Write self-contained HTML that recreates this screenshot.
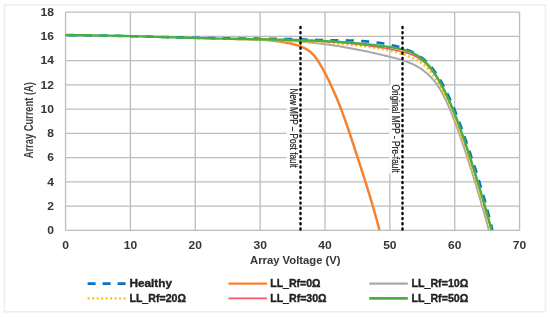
<!DOCTYPE html>
<html><head><meta charset="utf-8"><title>I-V curves</title>
<style>html,body{margin:0;padding:0;background:#fff;width:550px;height:317px;overflow:hidden}svg{display:block}</style>
</head><body>
<div id="c"><svg width="550" height="317" viewBox="0 0 550 317"><g><rect x="0" y="0" width="550" height="317" fill="#ffffff"/>
<rect x="4.5" y="4.8" width="541" height="307" fill="none" stroke="#e9eff4" stroke-width="1.6"/>
<g stroke="#bdbdbd" stroke-width="1.3" fill="none"><line x1="65.55" y1="12.05" x2="65.55" y2="230.30"/><line x1="130.41" y1="12.05" x2="130.41" y2="230.30"/><line x1="195.27" y1="12.05" x2="195.27" y2="230.30"/><line x1="260.13" y1="12.05" x2="260.13" y2="230.30"/><line x1="324.99" y1="12.05" x2="324.99" y2="230.30"/><line x1="389.85" y1="12.05" x2="389.85" y2="230.30"/><line x1="454.71" y1="12.05" x2="454.71" y2="230.30"/><line x1="519.57" y1="12.05" x2="519.57" y2="230.30"/><line x1="65.55" y1="230.30" x2="519.57" y2="230.30"/><line x1="65.55" y1="206.05" x2="519.57" y2="206.05"/><line x1="65.55" y1="181.80" x2="519.57" y2="181.80"/><line x1="65.55" y1="157.55" x2="519.57" y2="157.55"/><line x1="65.55" y1="133.30" x2="519.57" y2="133.30"/><line x1="65.55" y1="109.05" x2="519.57" y2="109.05"/><line x1="65.55" y1="84.80" x2="519.57" y2="84.80"/><line x1="65.55" y1="60.55" x2="519.57" y2="60.55"/><line x1="65.55" y1="36.30" x2="519.57" y2="36.30"/><line x1="65.55" y1="12.05" x2="519.57" y2="12.05"/></g>
<path d="M65.45,35.13 L66.82,35.14 L68.19,35.14 L69.56,35.15 L70.93,35.16 L72.30,35.16 L73.67,35.17 L75.05,35.18 L76.42,35.19 L77.79,35.20 L79.16,35.21 L80.53,35.23 L81.90,35.24 L83.28,35.25 L84.65,35.27 L86.02,35.29 L87.39,35.30 L88.76,35.32 L90.14,35.34 L91.51,35.36 L92.88,35.38 L94.25,35.40 L95.62,35.42 L97.00,35.44 L98.37,35.46 L99.74,35.49 L101.11,35.51 L102.48,35.54 L103.86,35.56 L105.23,35.59 L106.60,35.61 L107.97,35.64 L109.34,35.67 L110.72,35.70 L112.09,35.73 L113.46,35.75 L114.83,35.78 L116.21,35.81 L117.58,35.85 L118.95,35.88 L120.32,35.91 L121.69,35.94 L123.07,35.97 L124.44,36.01 L125.81,36.04 L127.18,36.07 L128.56,36.11 L129.93,36.14 L131.30,36.18 L132.67,36.21 L134.05,36.25 L135.42,36.28 L136.79,36.32 L138.16,36.36 L139.54,36.39 L140.91,36.43 L142.28,36.47 L143.65,36.51 L145.03,36.54 L146.40,36.58 L147.77,36.62 L149.14,36.66 L150.52,36.69 L151.89,36.73 L153.26,36.76 L154.63,36.79 L156.01,36.83 L157.38,36.86 L158.75,36.89 L160.12,36.93 L161.50,36.96 L162.87,36.99 L164.24,37.03 L165.61,37.06 L166.99,37.09 L168.36,37.13 L169.73,37.16 L171.10,37.19 L172.48,37.23 L173.85,37.26 L175.22,37.29 L176.59,37.32 L177.97,37.36 L179.34,37.39 L180.71,37.42 L182.08,37.46 L183.46,37.49 L184.83,37.52 L186.20,37.55 L187.57,37.58 L188.95,37.62 L190.32,37.65 L191.69,37.68 L193.06,37.71 L194.44,37.74 L195.81,37.77 L197.18,37.80 L198.55,37.83 L199.93,37.86 L201.30,37.89 L202.67,37.92 L204.04,37.94 L205.42,37.97 L206.79,38.00 L208.16,38.03 L209.53,38.05 L210.90,38.08 L212.28,38.10 L213.65,38.13 L215.02,38.15 L216.39,38.18 L217.77,38.20 L219.14,38.22 L220.51,38.25 L221.88,38.27 L223.26,38.29 L224.63,38.31 L226.00,38.33 L227.37,38.35 L228.75,38.37 L230.12,38.39 L231.49,38.41 L232.86,38.42 L234.24,38.44 L235.61,38.46 L236.98,38.47 L238.35,38.49 L239.72,38.50 L241.10,38.52 L242.47,38.53 L243.84,38.54 L245.21,38.56 L246.59,38.57 L247.96,38.58 L249.33,38.60 L250.70,38.61 L252.07,38.62 L253.45,38.63 L254.82,38.65 L256.19,38.66 L257.56,38.67 L258.94,38.68 L260.31,38.70 L261.68,38.71 L263.05,38.73 L264.42,38.74 L265.80,38.75 L267.17,38.77 L268.54,38.78 L269.91,38.80 L271.28,38.82 L272.66,38.83 L274.03,38.85 L275.40,38.87 L276.77,38.89 L278.15,38.90 L279.52,38.92 L280.89,38.94 L282.26,38.97 L283.63,38.99 L285.01,39.01 L286.38,39.03 L287.75,39.06 L289.12,39.08 L290.50,39.11 L291.87,39.13 L293.24,39.16 L294.61,39.19 L295.99,39.22 L297.36,39.25 L298.73,39.28 L300.10,39.32 L301.47,39.37 L302.85,39.42 L304.22,39.47 L305.59,39.52 L306.96,39.57 L308.34,39.62 L309.71,39.67 L311.08,39.72 L312.45,39.77 L313.83,39.82 L315.20,39.87 L316.57,39.92 L317.95,39.96 L319.32,40.00 L320.69,40.04 L322.06,40.08 L323.44,40.12 L324.81,40.15 L326.18,40.18 L327.55,40.21 L328.93,40.23 L330.30,40.26 L331.67,40.28 L333.04,40.29 L334.42,40.31 L335.79,40.32 L337.16,40.33 L338.54,40.34 L339.91,40.34 L341.28,40.35 L342.65,40.35 L344.03,40.35 L345.40,40.36 L346.77,40.40 L348.14,40.43 L349.51,40.47 L350.89,40.52 L352.26,40.57 L353.63,40.62 L355.00,40.68 L356.37,40.74 L357.74,40.81 L359.11,40.89 L360.48,40.97 L361.85,41.06 L363.22,41.16 L364.59,41.26 L365.96,41.37 L367.33,41.48 L368.70,41.61 L370.06,41.74 L371.43,41.88 L372.79,42.03 L374.16,42.19 L375.52,42.35 L376.88,42.53 L378.24,42.71 L379.60,42.91 L380.96,43.11 L382.31,43.33 L383.67,43.56 L385.02,43.79 L386.37,44.04 L387.72,44.30 L389.06,44.57 L390.40,44.85 L391.75,45.15 L393.08,45.45 L394.42,45.77 L395.75,46.11 L397.08,46.46 L398.40,46.82 L399.72,47.21 L401.03,47.61 L402.34,48.02 L403.64,48.46 L404.93,48.92 L406.22,49.39 L407.50,49.89 L408.77,50.41 L410.03,50.96 L411.28,51.53 L412.52,52.12 L413.74,52.74 L414.96,53.38 L416.15,54.06 L417.33,54.76 L418.50,55.48 L419.64,56.24 L420.77,57.03 L421.87,57.84 L422.95,58.69 L424.01,59.56 L425.04,60.47 L426.05,61.39 L427.04,62.35 L428.01,63.33 L428.95,64.32 L429.87,65.34 L430.77,66.38 L431.65,67.43 L432.51,68.50 L433.35,69.59 L434.17,70.69 L434.97,71.80 L435.76,72.93 L436.53,74.06 L437.29,75.21 L438.03,76.36 L438.76,77.53 L439.47,78.70 L440.17,79.88 L440.86,81.07 L441.54,82.26 L442.21,83.46 L442.87,84.66 L443.52,85.87 L444.16,87.08 L444.80,88.30 L445.42,89.52 L446.04,90.75 L446.65,91.98 L447.25,93.21 L447.85,94.45 L448.43,95.69 L449.01,96.93 L449.59,98.18 L450.15,99.43 L450.71,100.69 L451.26,101.94 L451.81,103.20 L452.35,104.47 L452.88,105.73 L453.41,107.00 L453.93,108.27 L454.44,109.54 L454.96,110.81 L455.46,112.09 L455.96,113.37 L456.46,114.65 L456.95,115.93 L457.44,117.21 L457.93,118.49 L458.41,119.78 L458.89,121.07 L459.36,122.35 L459.83,123.64 L460.30,124.93 L460.77,126.22 L461.23,127.52 L461.70,128.81 L462.16,130.10 L462.62,131.40 L463.07,132.69 L463.53,133.98 L463.98,135.28 L464.44,136.57 L464.89,137.87 L465.34,139.17 L465.79,140.46 L466.24,141.76 L466.69,143.06 L467.14,144.36 L467.58,145.65 L468.03,146.95 L468.47,148.25 L468.91,149.55 L469.35,150.85 L469.79,152.15 L470.23,153.45 L470.66,154.76 L471.10,156.06 L471.53,157.36 L471.96,158.66 L472.39,159.97 L472.82,161.27 L473.25,162.58 L473.67,163.88 L474.10,165.19 L474.52,166.49 L474.94,167.80 L475.36,169.11 L475.78,170.42 L476.19,171.72 L476.60,173.03 L477.02,174.34 L477.43,175.65 L477.83,176.96 L478.24,178.27 L478.65,179.59 L479.05,180.90 L479.45,182.21 L479.85,183.52 L480.24,184.84 L480.64,186.15 L481.03,187.47 L481.42,188.78 L481.81,190.10 L482.20,191.42 L482.58,192.74 L482.96,194.05 L483.34,195.37 L483.72,196.69 L484.10,198.01 L484.47,199.33 L484.84,200.66 L485.21,201.98 L485.58,203.30 L485.94,204.62 L486.31,205.95 L486.67,207.27 L487.02,208.60 L487.38,209.92 L487.73,211.25 L488.08,212.58 L488.43,213.91 L488.78,215.23 L489.12,216.56 L489.46,217.89 L489.80,219.22 L490.13,220.55 L490.46,221.89 L490.80,223.22 L491.12,224.55 L491.45,225.89 L491.77,227.22 L492.09,228.55 L492.41,229.89" fill="none" stroke="#0a72c4" stroke-width="2.60" stroke-linecap="butt" stroke-linejoin="round" stroke-dasharray="8 7.4" stroke-dashoffset="12.20"/>
<path d="M232.72,38.87 L233.82,38.89 L234.92,38.91 L236.02,38.93 L237.12,38.95 L238.23,38.97 L239.33,38.99 L240.43,39.00 L241.53,39.02 L242.63,39.04 L243.73,39.05 L244.83,39.07 L245.93,39.09 L247.03,39.10 L248.14,39.12 L249.24,39.14 L250.34,39.15 L251.44,39.17 L252.54,39.19 L253.64,39.20 L254.74,39.22 L255.84,39.23 L256.94,39.26 L258.04,39.33 L259.14,39.39 L260.24,39.47 L261.34,39.54 L262.43,39.62 L263.53,39.71 L264.63,39.79 L265.73,39.89 L266.82,39.99 L267.92,40.09 L269.02,40.20 L270.11,40.31 L271.21,40.43 L272.30,40.55 L273.40,40.68 L274.49,40.82 L275.58,40.96 L276.67,41.10 L277.77,41.26 L278.86,41.41 L279.94,41.58 L281.03,41.75 L282.12,41.93 L283.21,42.11 L284.29,42.30 L285.37,42.50 L286.46,42.70 L287.54,42.91 L288.62,43.13 L289.70,43.35 L290.77,43.59 L291.85,43.83 L292.92,44.09 L293.98,44.36 L295.05,44.65 L296.11,44.95 L297.16,45.27 L298.21,45.60 L299.25,45.96 L300.29,46.34 L301.31,46.74 L302.33,47.16 L303.34,47.61 L304.33,48.09 L305.31,48.60 L306.27,49.13 L307.21,49.70 L308.14,50.30 L309.04,50.93 L309.92,51.60 L310.77,52.29 L311.59,53.03 L312.38,53.79 L313.15,54.59 L313.88,55.40 L314.60,56.24 L315.29,57.10 L315.95,57.98 L316.60,58.87 L317.23,59.78 L317.84,60.69 L318.43,61.62 L319.02,62.55 L319.59,63.49 L320.16,64.44 L320.71,65.39 L321.26,66.34 L321.81,67.30 L322.35,68.26 L322.89,69.22 L323.42,70.19 L323.95,71.15 L324.47,72.12 L324.99,73.09 L325.50,74.07 L326.01,75.04 L326.52,76.02 L327.02,77.00 L327.52,77.98 L328.01,78.97 L328.50,79.96 L328.99,80.95 L329.47,81.94 L329.95,82.93 L330.42,83.92 L330.89,84.92 L331.36,85.92 L331.82,86.92 L332.28,87.92 L332.73,88.92 L333.18,89.93 L333.63,90.93 L334.07,91.94 L334.51,92.95 L334.95,93.96 L335.38,94.97 L335.82,95.99 L336.24,97.00 L336.67,98.02 L337.09,99.04 L337.51,100.06 L337.92,101.08 L338.33,102.10 L338.74,103.12 L339.15,104.15 L339.55,105.17 L339.95,106.20 L340.35,107.22 L340.75,108.25 L341.14,109.28 L341.53,110.31 L341.92,111.34 L342.31,112.37 L342.69,113.40 L343.07,114.44 L343.45,115.47 L343.83,116.51 L344.20,117.54 L344.58,118.58 L344.95,119.62 L345.32,120.65 L345.69,121.69 L346.05,122.73 L346.42,123.77 L346.78,124.81 L347.14,125.85 L347.50,126.89 L347.86,127.93 L348.21,128.98 L348.57,130.02 L348.92,131.06 L349.27,132.10 L349.63,133.15 L349.98,134.19 L350.33,135.24 L350.67,136.28 L351.02,137.33 L351.37,138.37 L351.72,139.42 L352.06,140.46 L352.41,141.51 L352.75,142.56 L353.09,143.60 L353.44,144.65 L353.78,145.70 L354.12,146.74 L354.46,147.79 L354.80,148.84 L355.15,149.89 L355.49,150.93 L355.83,151.98 L356.17,153.03 L356.51,154.07 L356.85,155.12 L357.19,156.17 L357.54,157.22 L357.88,158.26 L358.22,159.31 L358.56,160.36 L358.90,161.41 L359.24,162.45 L359.58,163.50 L359.92,164.55 L360.26,165.60 L360.60,166.64 L360.94,167.69 L361.27,168.74 L361.61,169.79 L361.95,170.84 L362.29,171.89 L362.62,172.94 L362.96,173.98 L363.29,175.03 L363.63,176.08 L363.96,177.13 L364.30,178.18 L364.63,179.23 L364.96,180.28 L365.30,181.33 L365.63,182.38 L365.96,183.43 L366.29,184.48 L366.61,185.54 L366.94,186.59 L367.27,187.64 L367.60,188.69 L367.92,189.74 L368.25,190.80 L368.57,191.85 L368.89,192.90 L369.21,193.96 L369.53,195.01 L369.85,196.06 L370.17,197.12 L370.49,198.17 L370.80,199.23 L371.12,200.28 L371.43,201.34 L371.75,202.40 L372.06,203.45 L372.37,204.51 L372.68,205.57 L372.98,206.62 L373.29,207.68 L373.59,208.74 L373.90,209.80 L374.20,210.86 L374.50,211.92 L374.80,212.98 L375.10,214.04 L375.40,215.10 L375.69,216.16 L375.98,217.22 L376.28,218.28 L376.57,219.35 L376.85,220.41 L377.14,221.47 L377.43,222.54 L377.71,223.60 L377.99,224.67 L378.27,225.73 L378.55,226.80 L378.83,227.86 L379.10,228.93 L379.38,230.00" fill="none" stroke="#f5822e" stroke-width="2.50" stroke-linecap="butt" stroke-linejoin="round"/>
<path d="M240.26,39.00 L241.60,39.02 L242.95,39.04 L244.29,39.06 L245.64,39.08 L246.98,39.10 L248.33,39.12 L249.67,39.14 L251.02,39.16 L252.36,39.18 L253.71,39.20 L255.05,39.24 L256.40,39.28 L257.74,39.33 L259.09,39.38 L260.43,39.42 L261.78,39.47 L263.12,39.52 L264.47,39.57 L265.81,39.62 L267.16,39.67 L268.50,39.73 L269.85,39.79 L271.19,39.84 L272.53,39.90 L273.88,39.97 L275.22,40.03 L276.57,40.09 L277.91,40.16 L279.25,40.23 L280.60,40.30 L281.94,40.37 L283.28,40.45 L284.63,40.53 L285.97,40.61 L287.31,40.69 L288.66,40.77 L290.00,40.86 L291.34,40.95 L292.68,41.04 L294.03,41.14 L295.37,41.24 L296.71,41.34 L298.05,41.44 L299.39,41.55 L300.73,41.65 L302.08,41.77 L303.42,41.88 L304.76,42.00 L306.10,42.12 L307.44,42.25 L308.78,42.38 L310.11,42.51 L311.45,42.64 L312.79,42.78 L314.13,42.92 L315.47,43.07 L316.80,43.22 L318.14,43.37 L319.48,43.53 L320.81,43.69 L322.15,43.85 L323.48,44.02 L324.82,44.20 L326.15,44.37 L327.49,44.55 L328.82,44.74 L330.15,44.92 L331.48,45.11 L332.81,45.31 L334.15,45.51 L335.48,45.71 L336.81,45.91 L338.13,46.12 L339.46,46.34 L340.79,46.55 L342.12,46.77 L343.45,47.00 L344.77,47.22 L346.10,47.45 L347.42,47.68 L348.75,47.92 L350.07,48.16 L351.40,48.40 L352.72,48.65 L354.04,48.90 L355.36,49.15 L356.68,49.41 L358.00,49.67 L359.32,49.93 L360.64,50.19 L361.96,50.46 L363.28,50.73 L364.60,51.00 L365.91,51.28 L367.23,51.56 L368.55,51.84 L369.86,52.13 L371.18,52.42 L372.49,52.71 L373.80,53.00 L375.11,53.30 L376.43,53.60 L377.74,53.90 L379.05,54.20 L380.36,54.51 L381.67,54.82 L382.98,55.13 L384.29,55.44 L385.59,55.76 L386.90,56.08 L388.21,56.40 L389.51,56.72 L390.82,57.05 L392.12,57.38 L393.43,57.71 L394.73,58.05 L396.03,58.40 L397.33,58.75 L398.62,59.11 L399.92,59.48 L401.21,59.87 L402.49,60.27 L403.77,60.68 L405.05,61.10 L406.32,61.55 L407.58,62.01 L408.84,62.49 L410.09,63.00 L411.33,63.52 L412.55,64.07 L413.77,64.65 L414.97,65.25 L416.16,65.88 L417.34,66.53 L418.50,67.21 L419.64,67.92 L420.77,68.66 L421.88,69.42 L422.97,70.20 L424.05,71.01 L425.10,71.85 L426.14,72.70 L427.16,73.58 L428.16,74.49 L429.13,75.41 L430.09,76.35 L431.03,77.32 L431.95,78.30 L432.84,79.31 L433.71,80.33 L434.57,81.37 L435.40,82.43 L436.21,83.51 L436.99,84.60 L437.76,85.70 L438.51,86.82 L439.24,87.95 L439.95,89.09 L440.65,90.25 L441.32,91.41 L441.98,92.58 L442.63,93.76 L443.26,94.95 L443.88,96.14 L444.49,97.34 L445.08,98.55 L445.67,99.76 L446.24,100.98 L446.80,102.20 L447.36,103.43 L447.90,104.66 L448.44,105.89 L448.97,107.13 L449.50,108.37 L450.02,109.61 L450.53,110.85 L451.04,112.10 L451.55,113.34 L452.05,114.59 L452.55,115.84 L453.04,117.10 L453.53,118.35 L454.01,119.60 L454.49,120.86 L454.97,122.12 L455.44,123.38 L455.91,124.64 L456.38,125.90 L456.84,127.17 L457.30,128.43 L457.76,129.69 L458.22,130.96 L458.67,132.23 L459.12,133.49 L459.57,134.76 L460.02,136.03 L460.47,137.30 L460.91,138.57 L461.36,139.84 L461.80,141.11 L462.24,142.38 L462.67,143.66 L463.11,144.93 L463.54,146.20 L463.98,147.48 L464.41,148.75 L464.83,150.03 L465.26,151.30 L465.69,152.58 L466.11,153.86 L466.53,155.14 L466.95,156.41 L467.37,157.69 L467.79,158.97 L468.21,160.25 L468.62,161.53 L469.03,162.81 L469.44,164.09 L469.85,165.38 L470.26,166.66 L470.67,167.94 L471.07,169.22 L471.48,170.51 L471.88,171.79 L472.28,173.07 L472.68,174.36 L473.08,175.64 L473.48,176.93 L473.87,178.22 L474.27,179.50 L474.66,180.79 L475.05,182.08 L475.44,183.36 L475.83,184.65 L476.22,185.94 L476.61,187.23 L476.99,188.52 L477.38,189.81 L477.76,191.10 L478.14,192.39 L478.52,193.68 L478.90,194.97 L479.28,196.26 L479.66,197.55 L480.04,198.84 L480.42,200.13 L480.79,201.43 L481.16,202.72 L481.54,204.01 L481.91,205.31 L482.28,206.60 L482.65,207.89 L483.02,209.19 L483.39,210.48 L483.76,211.77 L484.13,213.07 L484.49,214.36 L484.86,215.66 L485.22,216.95 L485.59,218.25 L485.95,219.54 L486.31,220.84 L486.67,222.14 L487.03,223.43 L487.40,224.73 L487.76,226.03 L488.11,227.32 L488.47,228.62 L488.83,229.92" fill="none" stroke="#a9a9a9" stroke-width="2.00" stroke-linecap="butt" stroke-linejoin="round"/>
<path d="M260.92,39.37 L262.28,39.43 L263.63,39.48 L264.99,39.54 L266.35,39.60 L267.70,39.66 L269.06,39.72 L270.42,39.78 L271.77,39.84 L273.13,39.90 L274.49,39.96 L275.84,40.02 L277.20,40.09 L278.55,40.15 L279.91,40.22 L281.27,40.29 L282.62,40.35 L283.98,40.42 L285.33,40.49 L286.69,40.56 L288.05,40.63 L289.40,40.71 L290.76,40.78 L292.11,40.85 L293.47,40.93 L294.83,41.00 L296.18,41.08 L297.54,41.16 L298.89,41.23 L300.25,41.31 L301.60,41.39 L302.96,41.47 L304.31,41.55 L305.67,41.64 L307.03,41.72 L308.38,41.80 L309.74,41.89 L311.09,41.97 L312.45,42.06 L313.80,42.14 L315.16,42.23 L316.51,42.32 L317.87,42.41 L319.22,42.50 L320.58,42.59 L321.93,42.68 L323.29,42.77 L324.64,42.87 L325.99,42.96 L327.35,43.06 L328.70,43.15 L330.06,43.25 L331.41,43.34 L332.77,43.44 L334.12,43.54 L335.48,43.64 L336.83,43.74 L338.18,43.84 L339.54,43.94 L340.89,44.05 L342.25,44.15 L343.60,44.26 L344.95,44.37 L346.31,44.48 L347.66,44.59 L349.01,44.70 L350.36,44.82 L351.72,44.94 L353.07,45.07 L354.42,45.20 L355.77,45.33 L357.12,45.47 L358.47,45.61 L359.82,45.75 L361.17,45.90 L362.52,46.05 L363.87,46.21 L365.22,46.38 L366.57,46.55 L367.91,46.72 L369.26,46.91 L370.60,47.10 L371.95,47.29 L373.29,47.49 L374.63,47.70 L375.97,47.92 L377.31,48.14 L378.65,48.37 L379.98,48.61 L381.32,48.86 L382.65,49.12 L383.99,49.38 L385.32,49.66 L386.64,49.94 L387.97,50.23 L389.29,50.53 L390.61,50.84 L391.93,51.17 L393.25,51.50 L394.56,51.84 L395.88,52.19 L397.18,52.56 L398.49,52.93 L399.79,53.32 L401.09,53.72 L402.38,54.13 L403.67,54.55 L404.96,54.98 L406.24,55.43 L407.52,55.89 L408.79,56.38 L410.05,56.88 L411.30,57.40 L412.55,57.95 L413.78,58.52 L415.00,59.11 L416.20,59.74 L417.39,60.40 L418.56,61.09 L419.71,61.81 L420.84,62.56 L421.94,63.36 L423.02,64.18 L424.06,65.05 L425.08,65.95 L426.08,66.87 L427.04,67.83 L427.98,68.81 L428.90,69.81 L429.79,70.83 L430.66,71.87 L431.51,72.93 L432.34,74.01 L433.15,75.10 L433.95,76.20 L434.72,77.31 L435.49,78.43 L436.24,79.57 L436.97,80.71 L437.70,81.86 L438.41,83.01 L439.11,84.18 L439.79,85.35 L440.46,86.53 L441.13,87.71 L441.78,88.91 L442.42,90.10 L443.04,91.31 L443.66,92.52 L444.27,93.73 L444.87,94.95 L445.46,96.17 L446.04,97.40 L446.60,98.63 L447.17,99.87 L447.72,101.11 L448.26,102.35 L448.80,103.60 L449.33,104.85 L449.86,106.10 L450.37,107.36 L450.88,108.62 L451.39,109.88 L451.89,111.14 L452.38,112.41 L452.87,113.67 L453.35,114.94 L453.83,116.21 L454.31,117.48 L454.78,118.76 L455.25,120.03 L455.72,121.31 L456.18,122.58 L456.64,123.86 L457.10,125.14 L457.56,126.42 L458.02,127.69 L458.47,128.97 L458.93,130.25 L459.38,131.53 L459.84,132.81 L460.29,134.09 L460.74,135.37 L461.19,136.65 L461.64,137.93 L462.09,139.22 L462.54,140.50 L462.99,141.78 L463.43,143.06 L463.88,144.35 L464.32,145.63 L464.76,146.91 L465.20,148.20 L465.64,149.48 L466.08,150.77 L466.52,152.05 L466.95,153.34 L467.39,154.62 L467.82,155.91 L468.26,157.20 L468.69,158.49 L469.12,159.77 L469.55,161.06 L469.97,162.35 L470.40,163.64 L470.82,164.93 L471.25,166.22 L471.67,167.51 L472.09,168.80 L472.51,170.09 L472.93,171.39 L473.34,172.68 L473.76,173.97 L474.17,175.26 L474.58,176.56 L475.00,177.85 L475.40,179.15 L475.81,180.44 L476.22,181.74 L476.62,183.03 L477.03,184.33 L477.43,185.63 L477.83,186.92 L478.23,188.22 L478.62,189.52 L479.02,190.82 L479.41,192.12 L479.81,193.42 L480.20,194.72 L480.59,196.02 L480.97,197.32 L481.36,198.62 L481.74,199.93 L482.12,201.23 L482.51,202.53 L482.88,203.84 L483.26,205.14 L483.64,206.45 L484.01,207.75 L484.38,209.06 L484.75,210.36 L485.12,211.67 L485.49,212.98 L485.85,214.29 L486.22,215.59 L486.58,216.90 L486.94,218.21 L487.29,219.52 L487.65,220.83 L488.00,222.14 L488.36,223.46 L488.71,224.77 L489.06,226.08 L489.40,227.39 L489.75,228.71 L490.09,230.02" fill="none" stroke="#ffc012" stroke-width="2.40" stroke-linecap="butt" stroke-linejoin="round" stroke-dasharray="2 2.5" stroke-dashoffset="4.48"/>
<path d="M280.88,39.86 L282.24,39.89 L283.61,39.92 L284.97,39.96 L286.33,39.99 L287.70,40.03 L289.06,40.06 L290.43,40.10 L291.79,40.14 L293.15,40.18 L294.52,40.22 L295.88,40.27 L297.24,40.31 L298.61,40.35 L299.97,40.40 L301.34,40.45 L302.70,40.50 L304.06,40.55 L305.43,40.60 L306.79,40.65 L308.15,40.71 L309.52,40.77 L310.88,40.83 L312.24,40.89 L313.61,40.95 L314.97,41.01 L316.33,41.08 L317.69,41.15 L319.06,41.22 L320.42,41.29 L321.78,41.37 L323.14,41.45 L324.51,41.52 L325.87,41.61 L327.23,41.69 L328.59,41.78 L329.95,41.87 L331.31,41.96 L332.68,42.05 L334.04,42.15 L335.40,42.25 L336.76,42.35 L338.12,42.46 L339.48,42.56 L340.84,42.68 L342.20,42.79 L343.56,42.91 L344.92,43.03 L346.28,43.15 L347.64,43.28 L348.99,43.40 L350.35,43.54 L351.71,43.67 L353.07,43.81 L354.42,43.96 L355.78,44.10 L357.14,44.25 L358.49,44.40 L359.85,44.56 L361.20,44.72 L362.56,44.89 L363.91,45.05 L365.26,45.23 L366.62,45.40 L367.97,45.58 L369.32,45.77 L370.67,45.95 L372.02,46.14 L373.38,46.34 L374.73,46.54 L376.07,46.74 L377.42,46.95 L378.77,47.17 L380.12,47.38 L381.46,47.60 L382.81,47.83 L384.15,48.06 L385.50,48.30 L386.84,48.54 L388.18,48.78 L389.53,49.03 L390.87,49.28 L392.21,49.54 L393.55,49.80 L394.88,50.07 L396.22,50.35 L397.56,50.62 L398.89,50.91 L400.22,51.20 L401.55,51.50 L402.88,51.82 L404.20,52.15 L405.52,52.51 L406.83,52.89 L408.14,53.29 L409.43,53.72 L410.71,54.19 L411.98,54.69 L413.24,55.23 L414.47,55.80 L415.69,56.41 L416.89,57.06 L418.07,57.75 L419.23,58.47 L420.36,59.23 L421.47,60.02 L422.56,60.85 L423.62,61.71 L424.65,62.60 L425.66,63.52 L426.64,64.47 L427.59,65.44 L428.52,66.44 L429.43,67.46 L430.31,68.50 L431.18,69.56 L432.02,70.64 L432.84,71.73 L433.64,72.83 L434.42,73.95 L435.18,75.08 L435.93,76.22 L436.66,77.37 L437.38,78.53 L438.09,79.70 L438.78,80.87 L439.47,82.05 L440.14,83.24 L440.80,84.43 L441.46,85.63 L442.10,86.83 L442.74,88.04 L443.37,89.25 L444.00,90.46 L444.61,91.68 L445.22,92.90 L445.82,94.13 L446.41,95.36 L447.00,96.59 L447.58,97.82 L448.15,99.06 L448.72,100.30 L449.28,101.55 L449.83,102.79 L450.38,104.04 L450.92,105.30 L451.46,106.55 L451.98,107.81 L452.51,109.07 L453.03,110.33 L453.54,111.60 L454.05,112.86 L454.55,114.13 L455.05,115.40 L455.55,116.67 L456.04,117.95 L456.52,119.22 L457.00,120.50 L457.48,121.78 L457.96,123.05 L458.43,124.33 L458.90,125.62 L459.36,126.90 L459.82,128.18 L460.28,129.47 L460.74,130.75 L461.20,132.04 L461.65,133.33 L462.10,134.61 L462.55,135.90 L463.00,137.19 L463.45,138.48 L463.89,139.77 L464.33,141.06 L464.78,142.35 L465.22,143.64 L465.65,144.94 L466.09,146.23 L466.52,147.52 L466.96,148.82 L467.39,150.11 L467.82,151.40 L468.25,152.70 L468.68,154.00 L469.10,155.29 L469.52,156.59 L469.95,157.89 L470.37,159.18 L470.79,160.48 L471.21,161.78 L471.62,163.08 L472.04,164.38 L472.45,165.68 L472.86,166.98 L473.28,168.28 L473.68,169.58 L474.09,170.89 L474.50,172.19 L474.91,173.49 L475.31,174.79 L475.71,176.10 L476.12,177.40 L476.52,178.71 L476.92,180.01 L477.31,181.32 L477.71,182.62 L478.11,183.93 L478.50,185.23 L478.89,186.54 L479.29,187.85 L479.68,189.15 L480.07,190.46 L480.46,191.77 L480.84,193.08 L481.23,194.39 L481.62,195.70 L482.00,197.01 L482.38,198.31 L482.77,199.62 L483.15,200.93 L483.53,202.24 L483.91,203.56 L484.28,204.87 L484.66,206.18 L485.04,207.49 L485.41,208.80 L485.79,210.11 L486.16,211.43 L486.53,212.74 L486.91,214.05 L487.28,215.36 L487.65,216.68 L488.02,217.99 L488.38,219.31 L488.75,220.62 L489.12,221.93 L489.48,223.25 L489.85,224.56 L490.21,225.88 L490.58,227.19 L490.94,228.51 L491.30,229.82" fill="none" stroke="#f65a66" stroke-width="1.60" stroke-linecap="butt" stroke-linejoin="round"/>
<path d="M65.37,35.04 L66.74,35.04 L68.11,35.05 L69.48,35.05 L70.85,35.06 L72.21,35.07 L73.58,35.08 L74.95,35.09 L76.32,35.10 L77.69,35.12 L79.05,35.13 L80.42,35.14 L81.79,35.16 L83.16,35.17 L84.53,35.19 L85.89,35.21 L87.26,35.23 L88.63,35.25 L90.00,35.27 L91.37,35.29 L92.73,35.31 L94.10,35.33 L95.47,35.35 L96.84,35.38 L98.21,35.40 L99.57,35.43 L100.94,35.45 L102.31,35.48 L103.68,35.50 L105.05,35.53 L106.41,35.56 L107.78,35.59 L109.15,35.62 L110.52,35.65 L111.88,35.68 L113.25,35.71 L114.62,35.74 L115.99,35.77 L117.36,35.80 L118.72,35.83 L120.09,35.87 L121.46,35.90 L122.83,35.94 L124.19,35.97 L125.56,36.01 L126.93,36.04 L128.30,36.08 L129.66,36.11 L131.03,36.15 L132.40,36.18 L133.77,36.22 L135.14,36.26 L136.50,36.30 L137.87,36.33 L139.24,36.37 L140.61,36.41 L141.97,36.45 L143.34,36.49 L144.71,36.53 L146.08,36.57 L147.44,36.61 L148.81,36.65 L150.18,36.69 L151.55,36.73 L152.91,36.77 L154.28,36.81 L155.65,36.85 L157.02,36.89 L158.38,36.93 L159.75,36.97 L161.12,37.01 L162.49,37.05 L163.85,37.09 L165.22,37.13 L166.59,37.17 L167.96,37.21 L169.32,37.25 L170.69,37.30 L172.06,37.34 L173.43,37.38 L174.79,37.42 L176.16,37.46 L177.53,37.50 L178.90,37.54 L180.26,37.58 L181.63,37.62 L183.00,37.66 L184.37,37.70 L185.73,37.74 L187.10,37.78 L188.47,37.81 L189.84,37.85 L191.21,37.89 L192.57,37.93 L193.94,37.97 L195.31,38.01 L196.68,38.04 L198.04,38.08 L199.41,38.12 L200.78,38.15 L202.15,38.19 L203.51,38.22 L204.88,38.26 L206.25,38.29 L207.62,38.33 L208.98,38.36 L210.35,38.40 L211.72,38.43 L213.09,38.46 L214.46,38.49 L215.82,38.53 L217.19,38.56 L218.56,38.59 L219.93,38.62 L221.29,38.65 L222.66,38.68 L224.03,38.71 L225.40,38.73 L226.77,38.76 L228.13,38.79 L229.50,38.81 L230.87,38.84 L232.24,38.86 L233.61,38.89 L234.97,38.91 L236.34,38.94 L237.71,38.96 L239.08,38.98 L240.45,39.00 L241.81,39.02 L243.18,39.05 L244.55,39.07 L245.92,39.09 L247.29,39.11 L248.65,39.13 L250.02,39.15 L251.39,39.17 L252.76,39.19 L254.12,39.21 L255.49,39.23 L256.86,39.25 L258.23,39.27 L259.60,39.29 L260.96,39.31 L262.33,39.33 L263.70,39.35 L265.07,39.37 L266.44,39.39 L267.80,39.41 L269.17,39.44 L270.54,39.46 L271.91,39.48 L273.28,39.50 L274.64,39.53 L276.01,39.55 L277.38,39.58 L278.75,39.60 L280.12,39.63 L281.48,39.65 L282.85,39.68 L284.22,39.71 L285.59,39.74 L286.96,39.77 L288.32,39.80 L289.69,39.83 L291.06,39.86 L292.43,39.90 L293.79,39.93 L295.16,39.97 L296.53,40.00 L297.90,40.04 L299.26,40.08 L300.63,40.12 L302.00,40.16 L303.37,40.21 L304.73,40.25 L306.10,40.29 L307.47,40.34 L308.84,40.39 L310.20,40.44 L311.57,40.49 L312.94,40.54 L314.31,40.60 L315.67,40.65 L317.04,40.71 L318.41,40.77 L319.77,40.83 L321.14,40.89 L322.51,40.96 L323.87,41.02 L325.24,41.09 L326.61,41.16 L327.97,41.23 L329.34,41.30 L330.70,41.38 L332.07,41.46 L333.44,41.54 L334.80,41.62 L336.17,41.70 L337.53,41.79 L338.90,41.88 L340.26,41.97 L341.63,42.06 L342.99,42.15 L344.36,42.25 L345.72,42.35 L347.09,42.45 L348.45,42.56 L349.81,42.67 L351.18,42.78 L352.54,42.89 L353.90,43.00 L355.27,43.12 L356.63,43.24 L357.99,43.36 L359.36,43.49 L360.72,43.62 L362.08,43.75 L363.44,43.88 L364.80,44.02 L366.16,44.16 L367.52,44.30 L368.88,44.45 L370.24,44.60 L371.60,44.75 L372.96,44.90 L374.32,45.06 L375.68,45.22 L377.04,45.38 L378.40,45.55 L379.75,45.72 L381.11,45.90 L382.47,46.07 L383.82,46.25 L385.18,46.44 L386.54,46.63 L387.89,46.82 L389.24,47.01 L390.60,47.21 L391.95,47.41 L393.30,47.62 L394.65,47.84 L396.00,48.07 L397.35,48.31 L398.69,48.57 L400.03,48.85 L401.37,49.15 L402.70,49.47 L404.02,49.81 L405.34,50.19 L406.64,50.59 L407.94,51.03 L409.22,51.50 L410.49,52.01 L411.75,52.56 L412.98,53.15 L414.20,53.77 L415.40,54.43 L416.58,55.12 L417.74,55.84 L418.88,56.60 L420.00,57.40 L421.09,58.22 L422.16,59.07 L423.20,59.95 L424.22,60.87 L425.22,61.80 L426.19,62.77 L427.14,63.75 L428.06,64.76 L428.97,65.79 L429.85,66.83 L430.71,67.90 L431.55,68.98 L432.37,70.07 L433.17,71.18 L433.96,72.30 L434.73,73.43 L435.48,74.57 L436.22,75.73 L436.94,76.89 L437.65,78.06 L438.35,79.23 L439.04,80.42 L439.71,81.61 L440.38,82.80 L441.03,84.00 L441.68,85.21 L442.32,86.42 L442.96,87.63 L443.58,88.84 L444.20,90.06 L444.81,91.29 L445.42,92.52 L446.02,93.75 L446.61,94.98 L447.19,96.22 L447.77,97.46 L448.34,98.70 L448.90,99.95 L449.46,101.20 L450.01,102.45 L450.56,103.70 L451.10,104.96 L451.63,106.22 L452.16,107.48 L452.68,108.75 L453.20,110.01 L453.72,111.28 L454.22,112.55 L454.73,113.82 L455.23,115.10 L455.72,116.37 L456.21,117.65 L456.70,118.93 L457.18,120.21 L457.66,121.49 L458.14,122.77 L458.61,124.06 L459.08,125.34 L459.55,126.63 L460.01,127.91 L460.47,129.20 L460.93,130.49 L461.39,131.78 L461.84,133.07 L462.30,134.36 L462.75,135.65 L463.20,136.94 L463.65,138.24 L464.09,139.53 L464.54,140.82 L464.98,142.12 L465.42,143.41 L465.86,144.71 L466.30,146.01 L466.74,147.30 L467.17,148.60 L467.61,149.90 L468.04,151.19 L468.47,152.49 L468.90,153.79 L469.33,155.09 L469.75,156.39 L470.18,157.69 L470.60,158.99 L471.02,160.30 L471.44,161.60 L471.86,162.90 L472.28,164.20 L472.69,165.51 L473.11,166.81 L473.52,168.12 L473.93,169.42 L474.34,170.73 L474.75,172.03 L475.16,173.34 L475.56,174.64 L475.97,175.95 L476.37,177.26 L476.77,178.56 L477.18,179.87 L477.58,181.18 L477.97,182.49 L478.37,183.80 L478.77,185.11 L479.16,186.42 L479.56,187.73 L479.95,189.04 L480.34,190.35 L480.73,191.66 L481.12,192.97 L481.51,194.29 L481.89,195.60 L482.28,196.91 L482.66,198.22 L483.05,199.54 L483.43,200.85 L483.81,202.16 L484.19,203.48 L484.57,204.79 L484.95,206.11 L485.33,207.42 L485.70,208.74 L486.08,210.05 L486.45,211.37 L486.82,212.69 L487.20,214.00 L487.57,215.32 L487.94,216.64 L488.31,217.95 L488.68,219.27 L489.04,220.59 L489.41,221.91 L489.78,223.23 L490.14,224.54 L490.51,225.86 L490.87,227.18 L491.23,228.50 L491.59,229.82" fill="none" stroke="#46b13f" stroke-width="2.35" stroke-linecap="butt" stroke-linejoin="round"/>
<rect x="286.5" y="86" width="12.5" height="84" fill="#fff"/>
<rect x="389.2" y="84.5" width="12.3" height="89" fill="#fff"/>
<text transform="translate(289.50,88.60) rotate(90) scale(1,1.200)" style="font-family:'Liberation Sans',Arial,sans-serif;font-size:8.60px;fill:#1a1a1a;stroke:#1a1a1a;stroke-width:0.15px" textLength="78.90" lengthAdjust="spacingAndGlyphs">New MPP – Post fault</text>
<text transform="translate(392.20,84.60) rotate(90) scale(1,1.200)" style="font-family:'Liberation Sans',Arial,sans-serif;font-size:8.60px;fill:#1a1a1a;stroke:#1a1a1a;stroke-width:0.15px" textLength="88.00" lengthAdjust="spacingAndGlyphs">Original MPP - Pre-fault</text>
<line x1="300.50" y1="27.0" x2="300.50" y2="229.6" stroke="#000" stroke-width="2.4" stroke-linecap="round" stroke-dasharray="1.0 4.165"/>
<line x1="402.50" y1="27.0" x2="402.50" y2="229.6" stroke="#000" stroke-width="2.4" stroke-linecap="round" stroke-dasharray="1.0 4.165"/>
<text transform="translate(54.00,234.00) scale(1.150,1)" text-anchor="end" style="font-family:'Liberation Sans',Arial,sans-serif;font-size:10.50px;font-weight:bold;fill:#363636">0</text>
<text transform="translate(54.00,209.75) scale(1.150,1)" text-anchor="end" style="font-family:'Liberation Sans',Arial,sans-serif;font-size:10.50px;font-weight:bold;fill:#363636">2</text>
<text transform="translate(54.00,185.50) scale(1.150,1)" text-anchor="end" style="font-family:'Liberation Sans',Arial,sans-serif;font-size:10.50px;font-weight:bold;fill:#363636">4</text>
<text transform="translate(54.00,161.25) scale(1.150,1)" text-anchor="end" style="font-family:'Liberation Sans',Arial,sans-serif;font-size:10.50px;font-weight:bold;fill:#363636">6</text>
<text transform="translate(54.00,137.00) scale(1.150,1)" text-anchor="end" style="font-family:'Liberation Sans',Arial,sans-serif;font-size:10.50px;font-weight:bold;fill:#363636">8</text>
<text transform="translate(54.00,112.75) scale(1.150,1)" text-anchor="end" style="font-family:'Liberation Sans',Arial,sans-serif;font-size:10.50px;font-weight:bold;fill:#363636">10</text>
<text transform="translate(54.00,88.50) scale(1.150,1)" text-anchor="end" style="font-family:'Liberation Sans',Arial,sans-serif;font-size:10.50px;font-weight:bold;fill:#363636">12</text>
<text transform="translate(54.00,64.25) scale(1.150,1)" text-anchor="end" style="font-family:'Liberation Sans',Arial,sans-serif;font-size:10.50px;font-weight:bold;fill:#363636">14</text>
<text transform="translate(54.00,40.00) scale(1.150,1)" text-anchor="end" style="font-family:'Liberation Sans',Arial,sans-serif;font-size:10.50px;font-weight:bold;fill:#363636">16</text>
<text transform="translate(54.00,15.75) scale(1.150,1)" text-anchor="end" style="font-family:'Liberation Sans',Arial,sans-serif;font-size:10.50px;font-weight:bold;fill:#363636">18</text>
<text transform="translate(65.55,249.00) scale(1.150,1)" text-anchor="middle" style="font-family:'Liberation Sans',Arial,sans-serif;font-size:10.50px;font-weight:bold;fill:#363636">0</text>
<text transform="translate(130.41,249.00) scale(1.150,1)" text-anchor="middle" style="font-family:'Liberation Sans',Arial,sans-serif;font-size:10.50px;font-weight:bold;fill:#363636">10</text>
<text transform="translate(195.27,249.00) scale(1.150,1)" text-anchor="middle" style="font-family:'Liberation Sans',Arial,sans-serif;font-size:10.50px;font-weight:bold;fill:#363636">20</text>
<text transform="translate(260.13,249.00) scale(1.150,1)" text-anchor="middle" style="font-family:'Liberation Sans',Arial,sans-serif;font-size:10.50px;font-weight:bold;fill:#363636">30</text>
<text transform="translate(324.99,249.00) scale(1.150,1)" text-anchor="middle" style="font-family:'Liberation Sans',Arial,sans-serif;font-size:10.50px;font-weight:bold;fill:#363636">40</text>
<text transform="translate(389.85,249.00) scale(1.150,1)" text-anchor="middle" style="font-family:'Liberation Sans',Arial,sans-serif;font-size:10.50px;font-weight:bold;fill:#363636">50</text>
<text transform="translate(454.71,249.00) scale(1.150,1)" text-anchor="middle" style="font-family:'Liberation Sans',Arial,sans-serif;font-size:10.50px;font-weight:bold;fill:#363636">60</text>
<text transform="translate(519.57,249.00) scale(1.150,1)" text-anchor="middle" style="font-family:'Liberation Sans',Arial,sans-serif;font-size:10.50px;font-weight:bold;fill:#363636">70</text>
<text transform="translate(250.00,264.00) scale(1.170,1)" text-anchor="start" style="font-family:'Liberation Sans',Arial,sans-serif;font-size:10.30px;font-weight:bold;fill:#363636" textLength="77.44" lengthAdjust="spacingAndGlyphs">Array Voltage (V)</text>
<text transform="translate(33.3,158.3) rotate(-90) scale(1,1.17)" style="font-family:'Liberation Sans',Arial,sans-serif;font-size:10.3px;font-weight:bold;fill:#404040" textLength="76.2" lengthAdjust="spacingAndGlyphs">Array Current (A)</text>
<line x1="87.60" y1="283.60" x2="126.20" y2="283.60" stroke="#0a72c4" stroke-width="2.60" stroke-dasharray="8 7"/>
<text transform="translate(129.40,287.00) scale(1.120,1)" text-anchor="start" style="font-family:'Liberation Sans',Arial,sans-serif;font-size:10.60px;font-weight:bold;fill:#222;stroke:#222;stroke-width:0.35px" textLength="38.04" lengthAdjust="spacingAndGlyphs">Healthy</text>
<line x1="228.40" y1="283.60" x2="267.00" y2="283.60" stroke="#f5822e" stroke-width="2.40"/>
<text transform="translate(270.20,287.00) scale(1.120,1)" text-anchor="start" style="font-family:'Liberation Sans',Arial,sans-serif;font-size:10.60px;font-weight:bold;fill:#222;stroke:#222;stroke-width:0.35px" textLength="44.91" lengthAdjust="spacingAndGlyphs">LL_Rf=0Ω</text>
<line x1="369.20" y1="283.60" x2="407.80" y2="283.60" stroke="#a9a9a9" stroke-width="2.20"/>
<text transform="translate(411.40,287.00) scale(1.120,1)" text-anchor="start" style="font-family:'Liberation Sans',Arial,sans-serif;font-size:10.60px;font-weight:bold;fill:#222;stroke:#222;stroke-width:0.35px" textLength="50.89" lengthAdjust="spacingAndGlyphs">LL_Rf=10Ω</text>
<line x1="87.60" y1="298.40" x2="126.20" y2="298.40" stroke="#ffc012" stroke-width="2.40" stroke-dasharray="2 2.5"/>
<text transform="translate(129.40,301.60) scale(1.120,1)" text-anchor="start" style="font-family:'Liberation Sans',Arial,sans-serif;font-size:10.60px;font-weight:bold;fill:#222;stroke:#222;stroke-width:0.35px" textLength="50.54" lengthAdjust="spacingAndGlyphs">LL_Rf=20Ω</text>
<line x1="228.40" y1="298.40" x2="267.00" y2="298.40" stroke="#f65a66" stroke-width="1.60"/>
<text transform="translate(270.20,301.60) scale(1.120,1)" text-anchor="start" style="font-family:'Liberation Sans',Arial,sans-serif;font-size:10.60px;font-weight:bold;fill:#222;stroke:#222;stroke-width:0.35px" textLength="50.36" lengthAdjust="spacingAndGlyphs">LL_Rf=30Ω</text>
<line x1="369.20" y1="298.40" x2="407.80" y2="298.40" stroke="#46b13f" stroke-width="2.60"/>
<text transform="translate(411.40,301.60) scale(1.120,1)" text-anchor="start" style="font-family:'Liberation Sans',Arial,sans-serif;font-size:10.60px;font-weight:bold;fill:#222;stroke:#222;stroke-width:0.35px" textLength="50.89" lengthAdjust="spacingAndGlyphs">LL_Rf=50Ω</text></g></svg></div>
</body></html>
